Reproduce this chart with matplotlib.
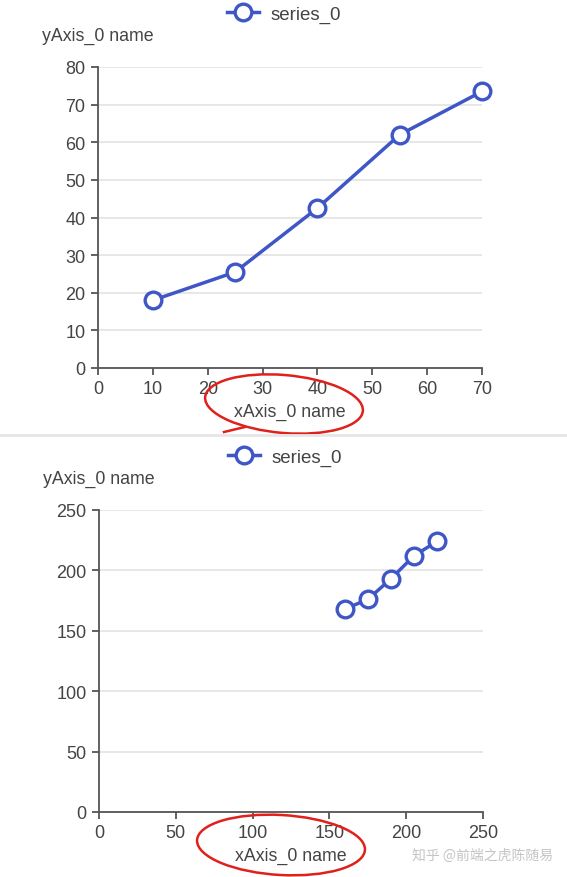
import matplotlib
matplotlib.use('Agg')
import matplotlib.pyplot as plt
from matplotlib.patches import Ellipse
from matplotlib.lines import Line2D

plt.rcParams['font.family'] = ['Liberation Sans', 'DejaVu Sans']

# top chart data
x_top = [10, 25, 40, 55, 70]
y_top = [18, 25.5, 42.5, 62, 73.5]
xticks_top = [0, 10, 20, 30, 40, 50, 60, 70]
yticks_top = [0, 10, 20, 30, 40, 50, 60, 70, 80]

# bottom chart data
x_bot = [160, 175, 190, 205, 220]
y_bot = [168, 176, 193, 212, 224]
xticks_bot = [0, 50, 100, 150, 200, 250]
yticks_bot = [0, 50, 100, 150, 200, 250]

series_name = 'series_0'
x_name = 'xAxis_0 name'
y_name = 'yAxis_0 name'

LINE = '#3f57c6'
TXT = '#444444'
AXC = '#555555'
GRID = '#e3e3e3'

W, H = 567, 878
fig = plt.figure(figsize=(W / 100, H / 100), dpi=100)


def px_rect(l, t, r, b):
    return [l / W, 1 - b / H, (r - l) / W, (b - t) / H]


def draw_chart(ax, xs, ys, xt, yt):
    ax.plot(xs, ys, color=LINE, lw=2.5, marker='o', ms=12,
            mfc='white', mec=LINE, mew=2.4, label=series_name, zorder=3,
            clip_on=False)
    ax.set_xlim(xt[0], xt[-1])
    ax.set_ylim(yt[0], yt[-1])
    ax.set_xticks(xt)
    ax.set_yticks(yt)
    ax.yaxis.grid(True, color=GRID, lw=1.2)
    ax.set_axisbelow(True)
    for s in ['top', 'right']:
        ax.spines[s].set_visible(False)
    for s in ['left', 'bottom']:
        ax.spines[s].set_color(AXC)
        ax.spines[s].set_linewidth(1.3)
    ax.tick_params(axis='both', colors=AXC, labelcolor=TXT, labelsize=13,
                   length=5, width=1.3, pad=4)
    ax.text(0, 1.105, y_name, transform=ax.transAxes, ha='center',
            va='center', fontsize=12.8, color=TXT)
    ax.text(0.5, -0.145, x_name, transform=ax.transAxes, ha='center',
            va='center', fontsize=12.8, color=TXT)
    ax.legend(loc='center', bbox_to_anchor=(0.485, 1.175), frameon=False,
              fontsize=13.5, labelcolor=TXT, handlelength=1.7,
              handletextpad=0.6)


ax1 = fig.add_axes(px_rect(98, 68, 482, 369))
draw_chart(ax1, x_top, y_top, xticks_top, yticks_top)

ax2 = fig.add_axes(px_rect(99, 511, 483, 813))
draw_chart(ax2, x_bot, y_bot, xticks_bot, yticks_bot)

# separator between the two screenshots
fig.add_artist(Line2D([0, 1], [1 - 436 / H, 1 - 436 / H],
                      transform=fig.transFigure, color='#e6e6e6', lw=2))

# red hand-drawn circles around the x axis names
for cx, cy, w, h, ang in [(284, 405, 158, 58, -3), (281, 846, 168, 60, -2)]:
    e = Ellipse((cx / W, 1 - cy / H), w / W, h / H, angle=ang,
                transform=fig.transFigure, fill=False, ec='#e0201b', lw=1.8)
    fig.add_artist(e)
fig.add_artist(Line2D([224 / W, 245 / W], [1 - 433 / H, 1 - 428 / H],
                      transform=fig.transFigure, color='#e0201b', lw=1.8))

# watermark
fig.text(483 / W, 1 - 856 / H, '知乎 @前端之虎陈随易', ha='center', va='center',
         fontsize=10, color='#c4c4c4',
         family=['Noto Sans CJK SC', 'DejaVu Sans'])

fig.savefig('out.png', dpi=100)
